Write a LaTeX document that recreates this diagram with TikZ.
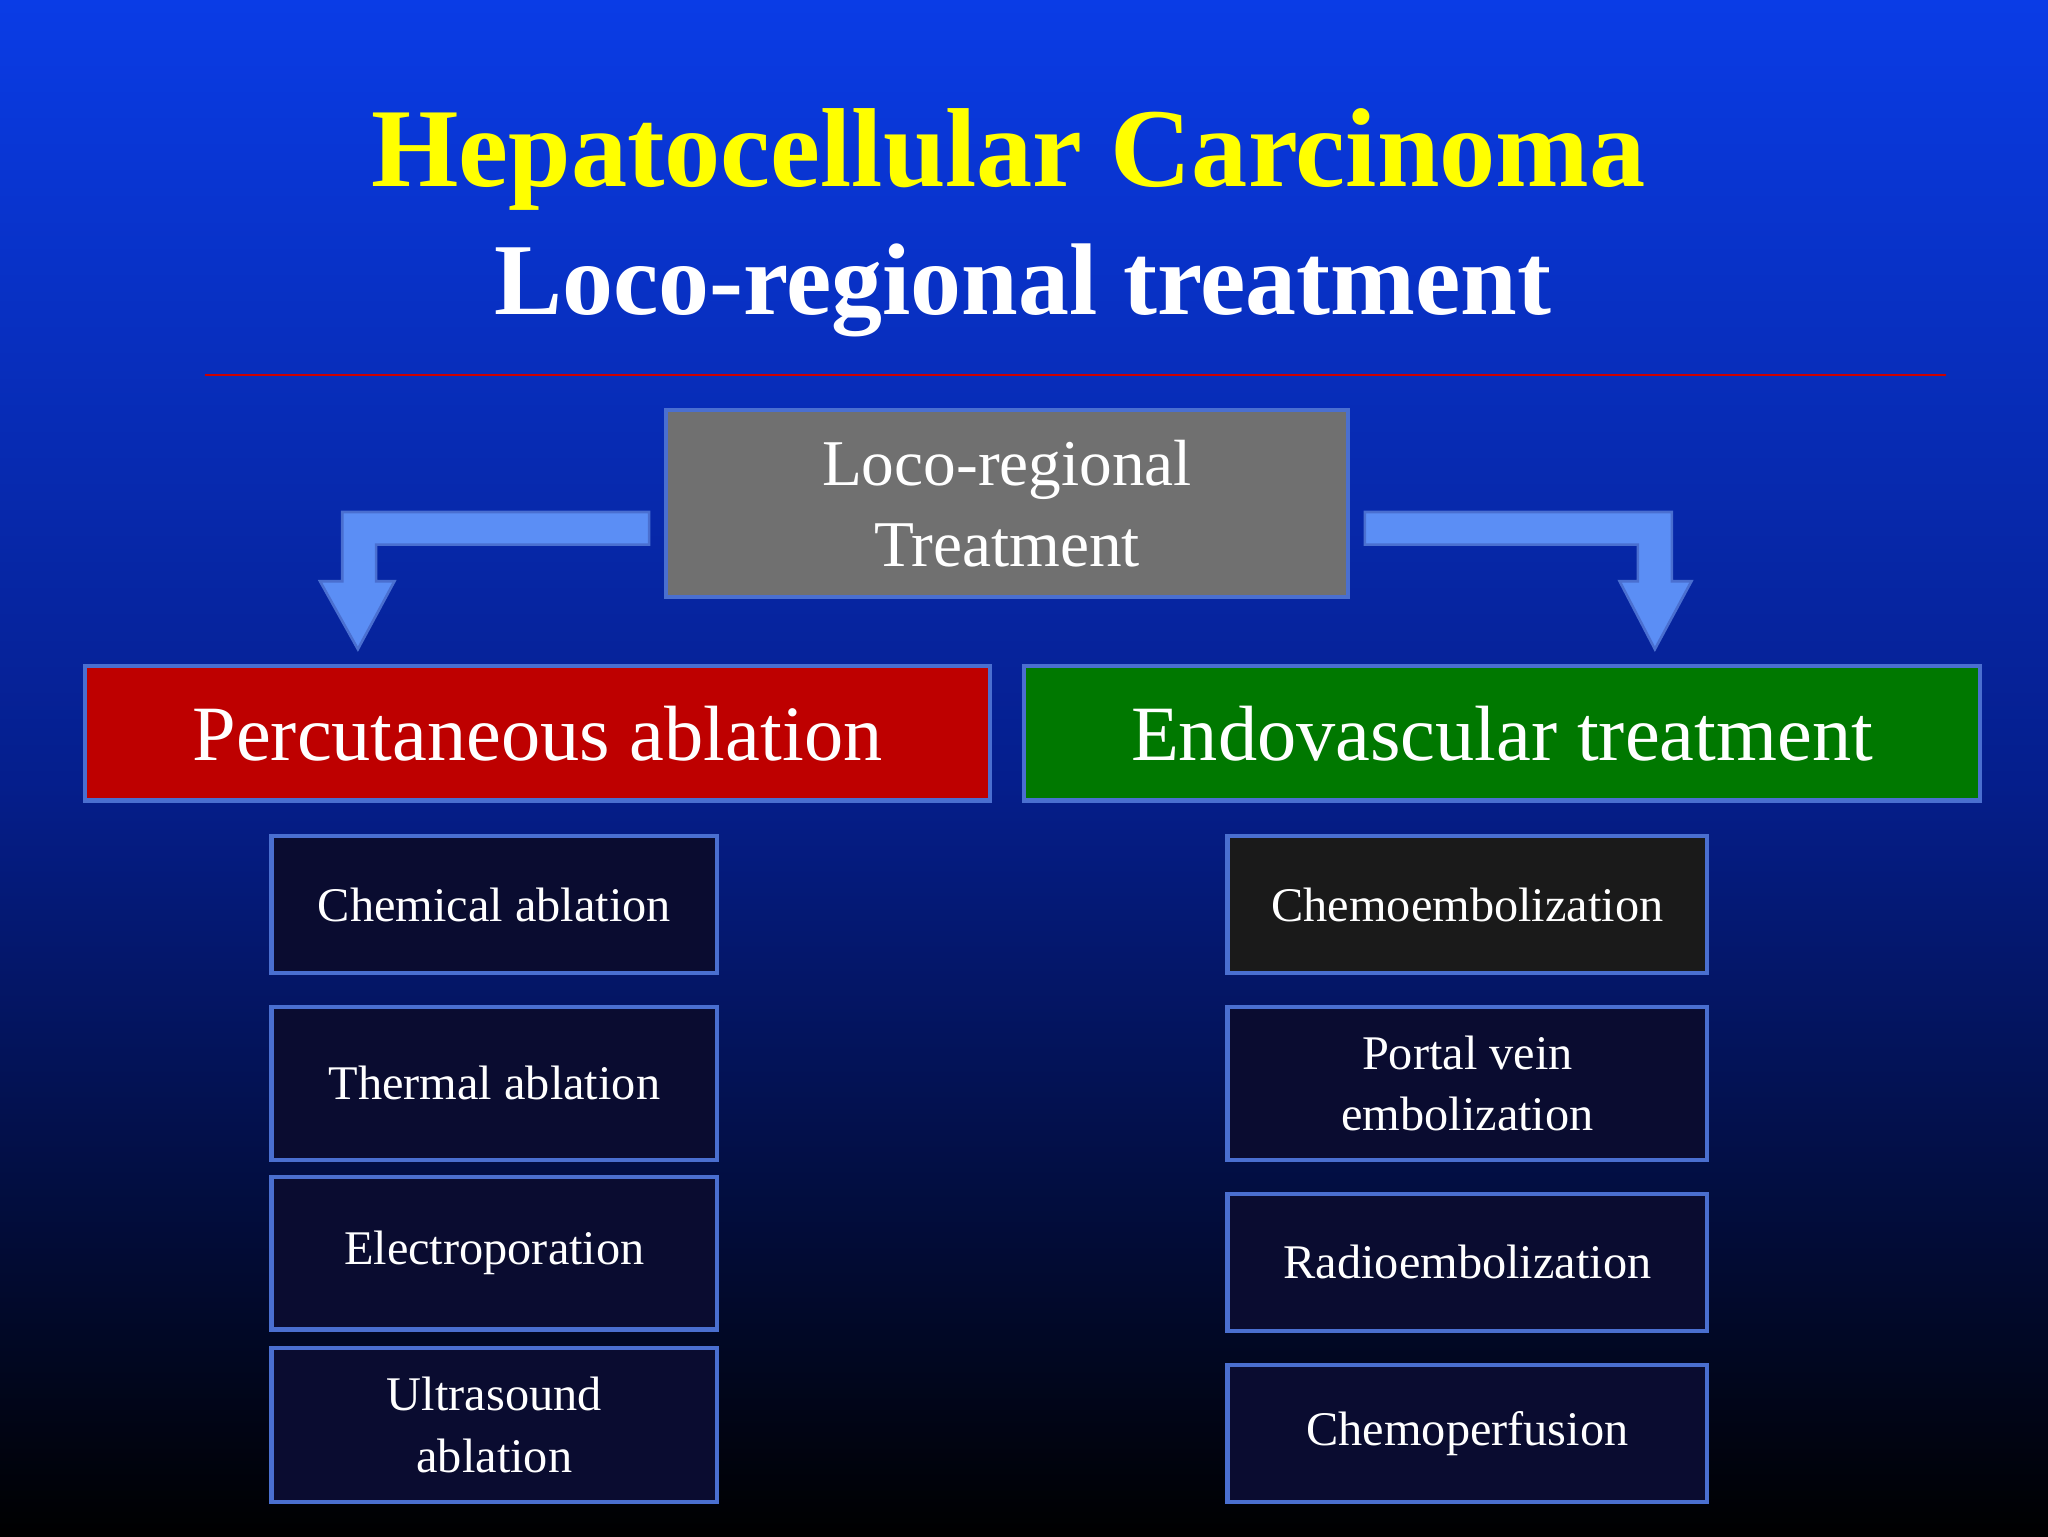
\documentclass[tikz,border=0pt]{standalone}
\usepackage{fontspec}
\setmainfont{Liberation Serif}
\definecolor{bord}{HTML}{4A6FD0}
\definecolor{arr}{HTML}{5B8EF5}
\definecolor{dk}{HTML}{0A0C30}
\begin{document}
\begin{tikzpicture}[x=1pt,y=-1pt,
 box/.style={draw=bord,line width=3.5pt,inner sep=0pt,text=white,align=center},
 sbox/.style={box,fill=dk,font=\fontsize{37}{47}\selectfont},
 arrshape/.style={fill=arr,draw=bord,line width=2pt,line join=miter}]
\shade[top color={rgb,255:red,10;green,60;blue,230},bottom color={rgb,255:red,5;green,30;blue,140}] (0,0) rectangle (1568,600);
\shade[top color={rgb,255:red,5;green,30;blue,140},bottom color=black] (0,599) rectangle (1568,1176);
\useasboundingbox (0,0) rectangle (1568,1176);
\node[text={rgb,255:red,255;green,255;blue,0},font=\fontsize{86}{90}\selectfont\bfseries] (t1) at (772,122) {Hepatocellular Carcinoma};
\node[text=white,font=\fontsize{78}{84}\selectfont\bfseries] (t2) at (783,222) {Loco-regional treatment};
\draw[red!80!black,line width=1.5pt] (157,287) -- (1490,287);
\filldraw[arrshape] (497,392)--(262,392)--(262,445)--(245,445)--(274,497)--(302,445)--(288,445)--(288,417)--(497,417)--cycle;
\filldraw[arrshape] (1045,392)--(1280,392)--(1280,445)--(1295,445)--(1267,497)--(1240,445)--(1254,445)--(1254,417)--(1045,417)--cycle;
\node[box,fill={rgb,255:red,112;green,112;blue,112},minimum width=522pt,minimum height=143pt,font=\fontsize{50}{62}\selectfont] (top) at (771,385.5) {Loco-regional\\Treatment};
\node[box,fill={rgb,255:red,190;green,0;blue,0},minimum width=693pt,minimum height=103pt,font=\fontsize{60}{70}\selectfont] (pa) at (411.5,561.5) {Percutaneous ablation};
\node[box,fill={rgb,255:red,0;green,120;blue,0},minimum width=732pt,minimum height=103pt,font=\fontsize{60}{70}\selectfont] (et) at (1150,561.5) {Endovascular treatment};
\node[sbox,minimum width=341pt,minimum height=105pt] (l1) at (378.5,692.5) {Chemical ablation};
\node[sbox,minimum width=341pt,minimum height=117pt] (l2) at (378.5,829.5) {Thermal ablation};
\node[sbox,minimum width=341pt,minimum height=117pt] (l3) at (378.5,959.5) {Electroporation};
\node[sbox,minimum width=341pt,minimum height=118pt] (l4) at (378.5,1091) {Ultrasound\\ablation};
\node[sbox,fill={rgb,255:red,26;green,26;blue,26},minimum width=367pt,minimum height=105pt] (r1) at (1123.5,692.5) {Chemoembolization};
\node[sbox,minimum width=367pt,minimum height=117pt] (r2) at (1123.5,829.5) {Portal vein\\embolization};
\node[sbox,minimum width=367pt,minimum height=105pt] (r3) at (1123.5,966.5) {Radioembolization};
\node[sbox,minimum width=367pt,minimum height=105pt] (r4) at (1123.5,1097.5) {Chemoperfusion};
\end{tikzpicture}
\end{document}
